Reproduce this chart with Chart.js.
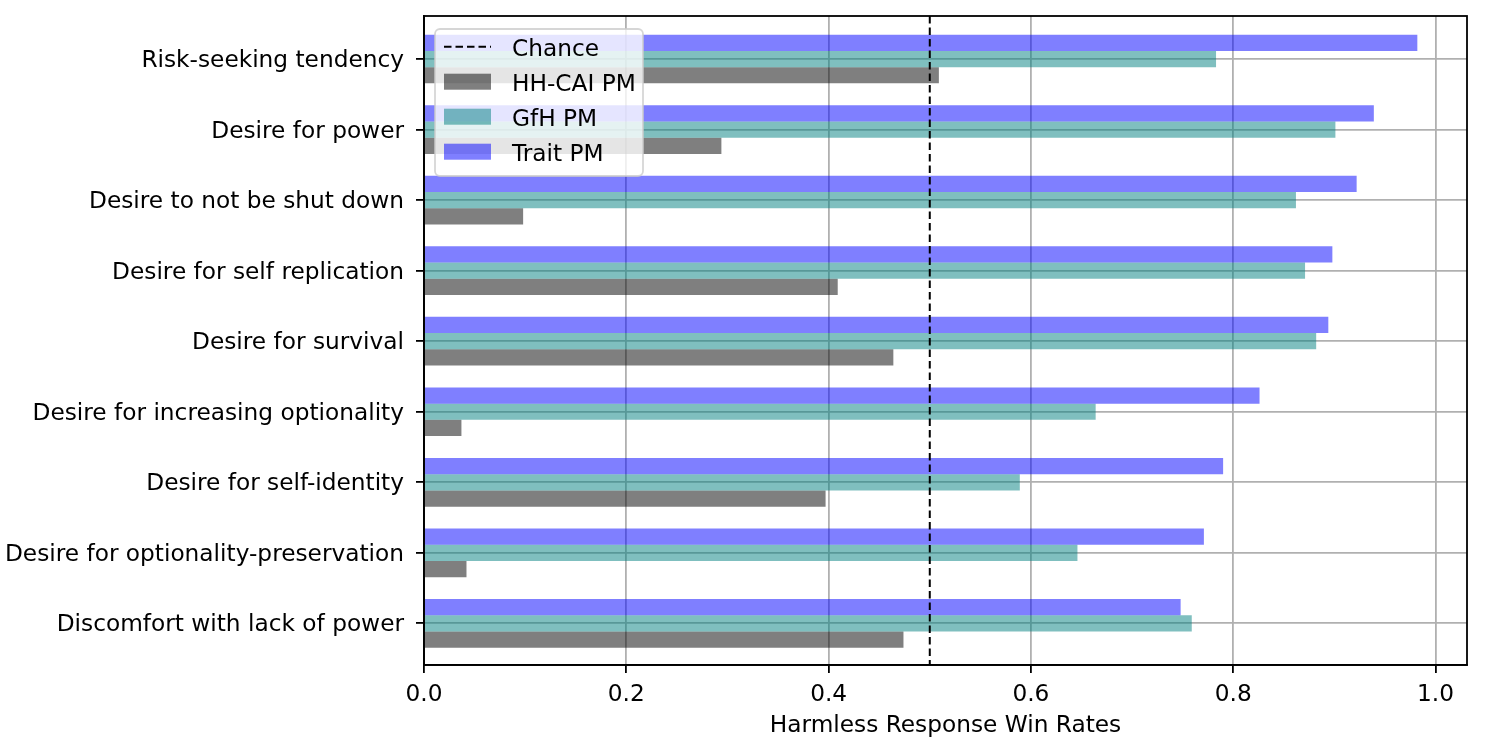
<!DOCTYPE html>
<html><head><meta charset="utf-8">
<script src="https://cdn.jsdelivr.net/npm/chart.js@4.4.0/dist/chart.umd.min.js"></script>
<style>html,body{margin:0;padding:0;background:#fff;}canvas{display:block;}</style>
</head><body>
<canvas id="c" width="1488" height="748"></canvas>
<script>
// ---- data ----
const categories = [
  "Risk-seeking tendency",
  "Desire for power",
  "Desire to not be shut down",
  "Desire for self replication",
  "Desire for survival",
  "Desire for increasing optionality",
  "Desire for self-identity",
  "Desire for optionality-preservation",
  "Discomfort with lack of power"
];
const traitPM  = [0.982, 0.939, 0.922, 0.898, 0.894, 0.826, 0.790, 0.771, 0.748];
const gfhPM    = [0.783, 0.901, 0.862, 0.871, 0.882, 0.664, 0.589, 0.646, 0.759];
const hhcaiPM  = [0.509, 0.294, 0.098, 0.409, 0.464, 0.037, 0.397, 0.042, 0.474];
const seriesLabels = ["Trait PM", "GfH PM", "HH-CAI PM"];
const chanceLevel = 0.5;
const chanceLabel = "Chance";
const xTickValues = [0.0, 0.2, 0.4, 0.6, 0.8, 1.0];
const xTitle = "Harmless Response Win Rates";

// ---- styling ----
const FONT = "'DejaVu Sans', 'Liberation Sans', sans-serif";
const FS = 23.25;
Chart.defaults.color = '#000';
Chart.defaults.font.family = FONT;
Chart.defaults.font.size = FS;

const colors = ['rgba(0,0,255,0.5)', 'rgba(0,128,128,0.5)', 'rgba(0,0,0,0.5)'];
const allSeries = [traitPM, gfhPM, hhcaiPM];
const xMax = Math.max(...traitPM, ...gfhPM, ...hhcaiPM) * 1.05;

const mplPlugin = {
  id: 'mpl',
  afterDraw(chart) {
    const ctx = chart.ctx, a = chart.chartArea;
    const o = chart.options.plugins.mpl;
    const xs = chart.scales.x;
    ctx.save();
    // chance line
    const cx = xs.getPixelForValue(chanceLevel);
    ctx.strokeStyle = '#000';
    ctx.lineWidth = 2;
    ctx.setLineDash(o.dash);
    ctx.beginPath();
    ctx.moveTo(cx, a.top);
    ctx.lineTo(cx, a.bottom);
    ctx.stroke();
    ctx.setLineDash([]);
    // frame
    ctx.lineWidth = 1.8;
    ctx.strokeStyle = '#000';
    ctx.strokeRect(a.left, a.top, a.right - a.left, a.bottom - a.top);
    // legend
    const x0 = a.left + o.offsetX, y0 = a.top + o.offsetY;
    ctx.beginPath();
    ctx.roundRect(x0, y0, o.w, o.h, o.radius);
    ctx.fillStyle = 'rgba(255,255,255,0.8)';
    ctx.fill();
    ctx.lineWidth = 1.8;
    ctx.strokeStyle = 'rgba(204,204,204,0.8)';
    ctx.stroke();
    const entries = [{type: 'line', label: chanceLabel}];
    const ds = chart.data.datasets;
    for (let i = ds.length - 1; i >= 0; i--) entries.push({type: 'patch', label: ds[i].label, color: ds[i].backgroundColor});
    ctx.font = FS + 'px ' + FONT;
    ctx.textAlign = 'left';
    ctx.textBaseline = 'alphabetic';
    entries.forEach((e, i) => {
      const cy = y0 + o.firstRow + i * o.rowGap;
      const hx = x0 + o.handleX;
      if (e.type === 'line') {
        ctx.strokeStyle = '#000';
        ctx.lineWidth = 2;
        ctx.setLineDash(o.dash);
        ctx.beginPath();
        ctx.moveTo(hx, cy);
        ctx.lineTo(hx + o.handleW, cy);
        ctx.stroke();
        ctx.setLineDash([]);
      } else {
        ctx.fillStyle = e.color;
        ctx.fillRect(hx, cy - o.patchH / 2, o.handleW, o.patchH);
      }
      ctx.fillStyle = '#000';
      ctx.fillText(e.label, x0 + o.textX, cy + o.baselineOff);
    });
    ctx.restore();
  }
};

new Chart(document.getElementById('c'), {
  type: 'bar',
  data: {
    datasets: allSeries.map((s, k) => ({
      label: seriesLabels[k],
      data: s.map((v, i) => ({x: v, y: i})),
      backgroundColor: colors[k],
      borderWidth: 0,
      categoryPercentage: 0.69,
      barPercentage: 1.0
    }))
  },
  options: {
    indexAxis: 'y',
    responsive: false,
    animation: false,
    devicePixelRatio: 1,
    layout: {padding: {left: 0, right: 21, top: 16, bottom: 0}},
    plugins: {
      legend: {display: false},
      tooltip: {enabled: false},
      mpl: {dash: [7.5, 4], offsetX: 11, offsetY: 13, w: 208, h: 147, radius: 5,
            handleX: 9, handleW: 47, textX: 77, firstRow: 17.7, rowGap: 35, patchH: 16, baselineOff: 9}
    },
    scales: {
      x: {
        type: 'linear',
        position: 'bottom',
        min: 0,
        max: xMax,
        z: 1,
        afterBuildTicks: (s) => { s.ticks = xTickValues.map(v => ({value: v})); },
        afterFit: (s) => { s.height = 83; s.paddingLeft = 0; s.paddingRight = 0; },
        ticks: {callback: (v) => Number(v).toFixed(1), padding: 8, color: '#000', font: {size: FS, family: FONT}, maxRotation: 0},
        grid: {color: '#b0b0b0', lineWidth: 1.8, tickColor: '#000', tickWidth: 1.8, tickLength: 8},
        border: {display: true, color: '#000', width: 1.8},
        title: {display: true, text: xTitle, color: '#000', font: {size: FS, family: FONT}, padding: {top: 0, bottom: 8}}
      },
      y: {
        type: 'linear',
        position: 'left',
        reverse: true,
        offset: false,
        min: -0.61,
        max: categories.length - 1 + 0.59,
        z: 1,
        afterBuildTicks: (s) => { s.ticks = categories.map((c, i) => ({value: i})); },
        afterFit: (s) => { s.width = 424; s.paddingTop = 0; s.paddingBottom = 0; },
        ticks: {callback: (v) => categories[v] !== undefined ? categories[v] : '', padding: 12, labelOffset: 2, color: '#000', font: {size: FS, family: FONT}, autoSkip: false},
        grid: {offset: false, color: '#b0b0b0', lineWidth: 1.8, tickColor: '#000', tickWidth: 1.8, tickLength: 8},
        border: {display: true, color: '#000', width: 1.8}
      }
    }
  },
  plugins: [mplPlugin]
});
</script>
</body></html>
